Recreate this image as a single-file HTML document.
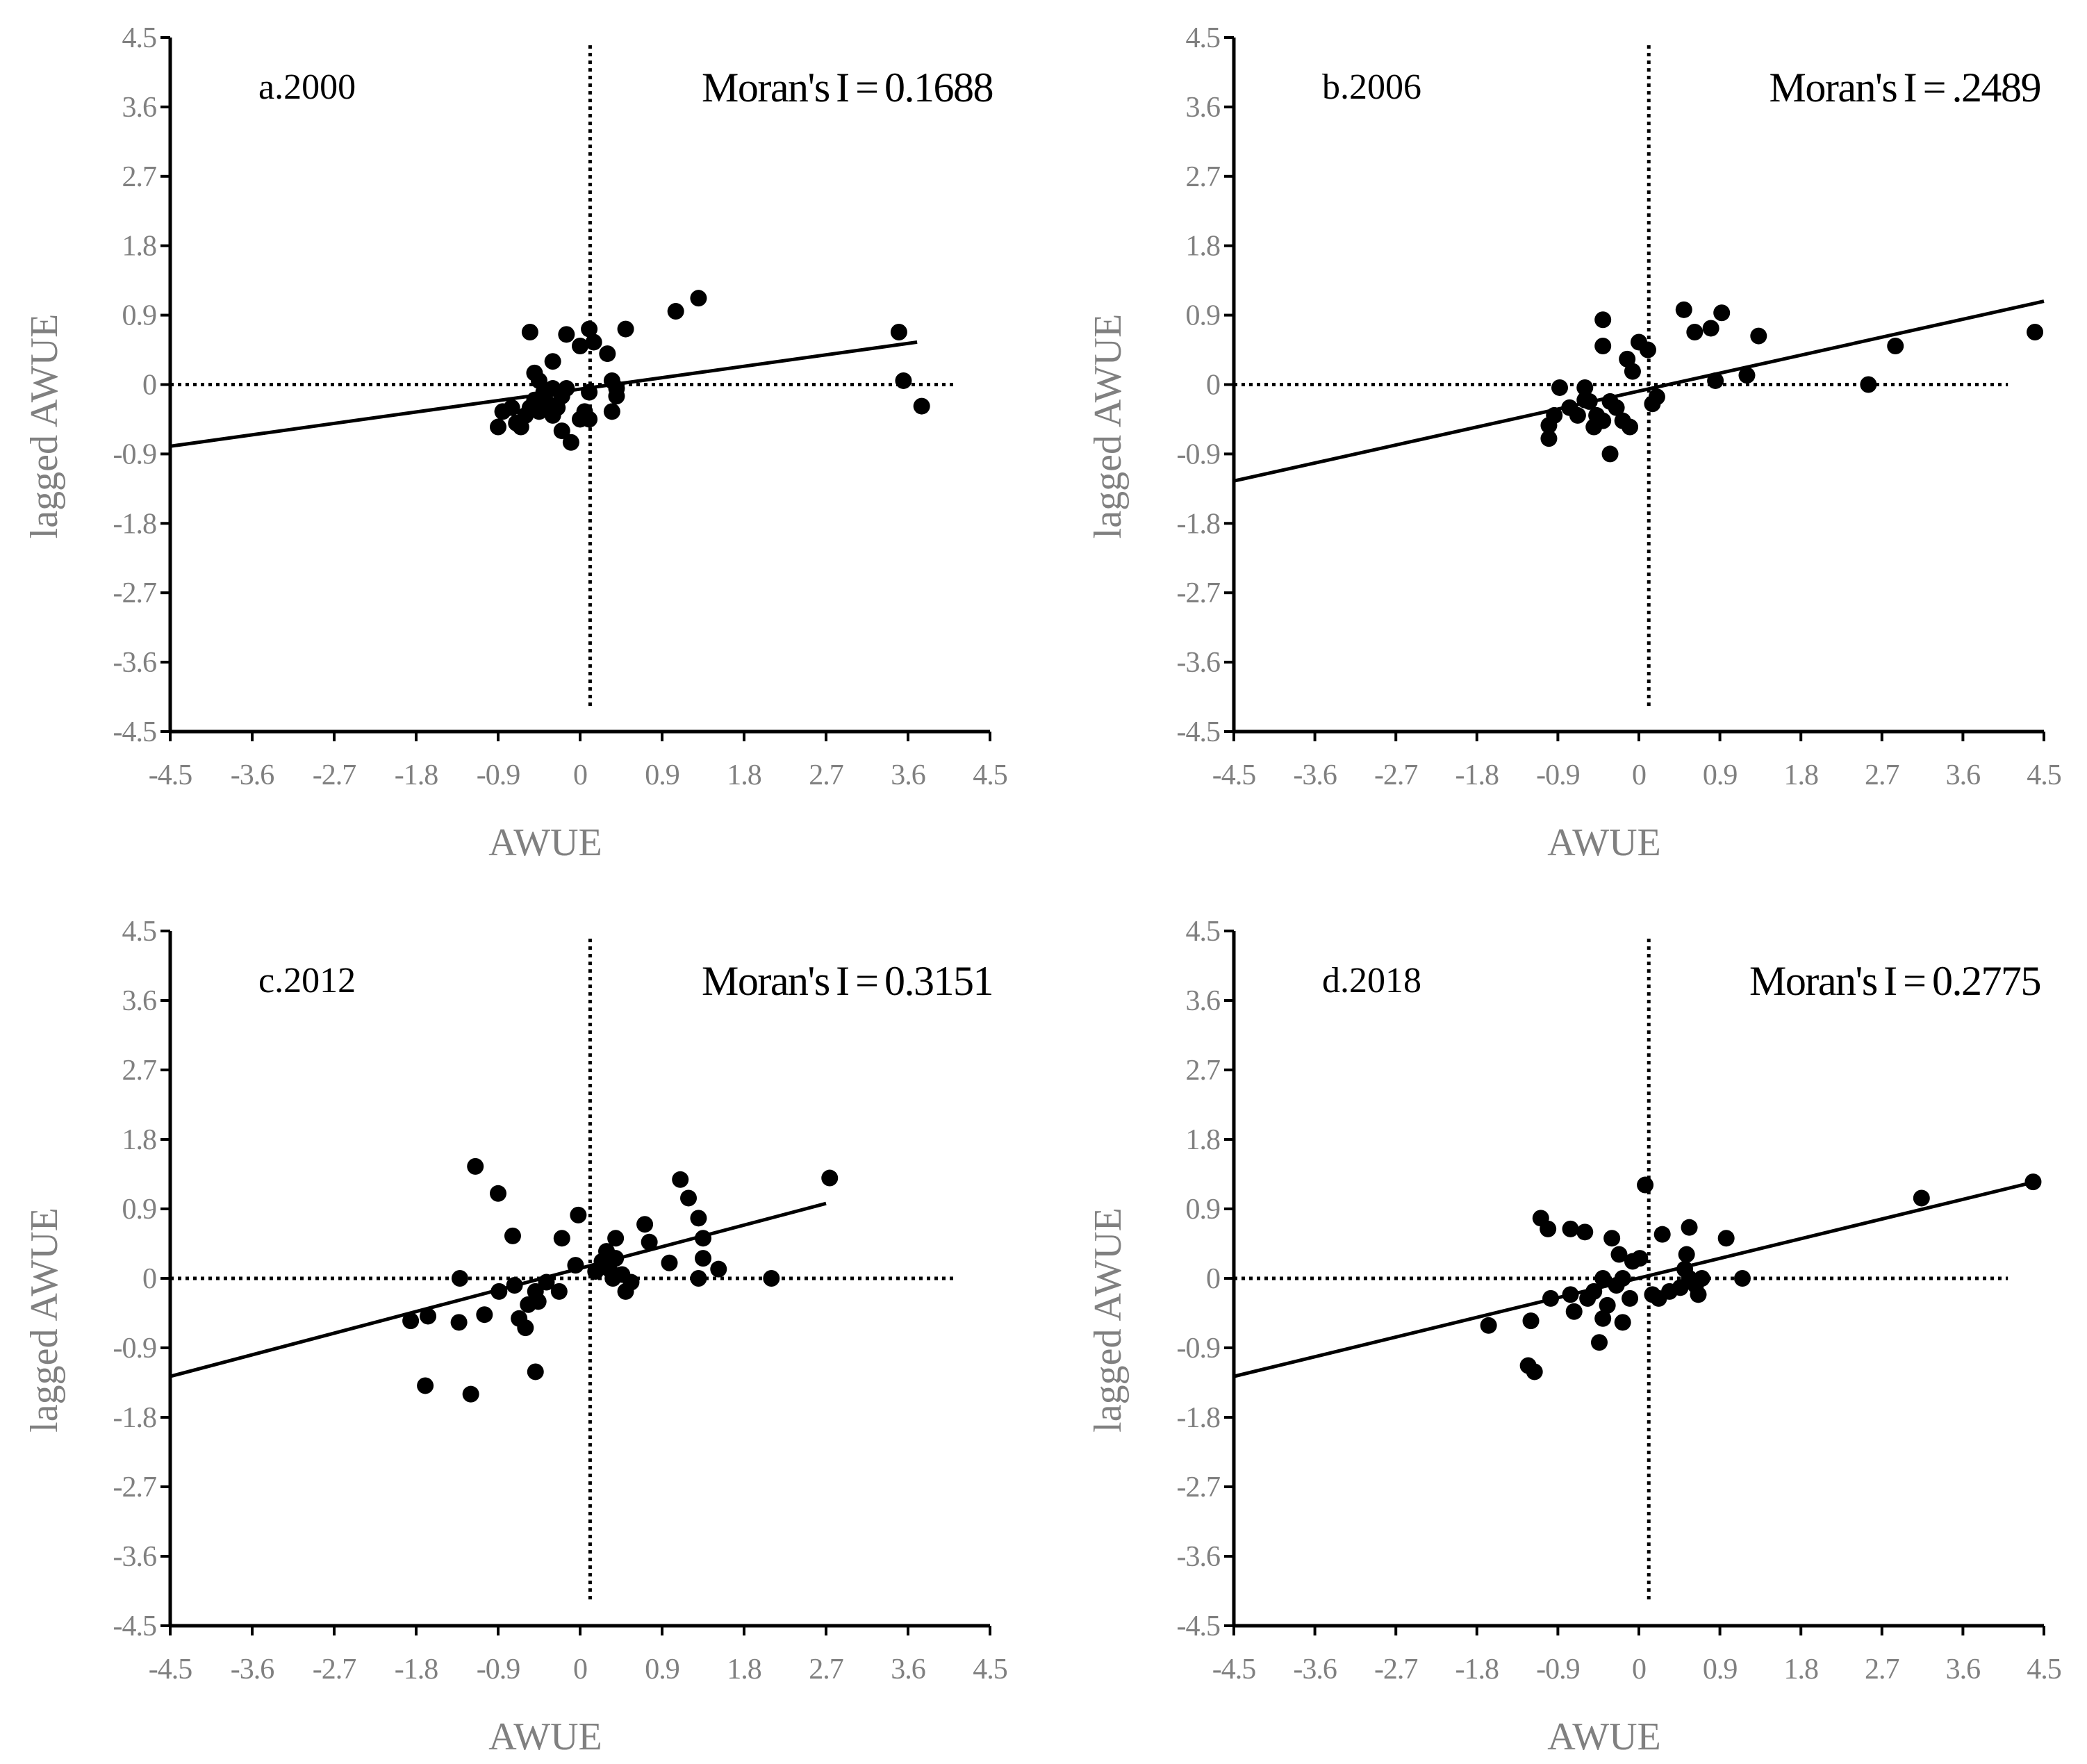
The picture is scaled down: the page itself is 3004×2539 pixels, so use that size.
<!DOCTYPE html>
<html><head><meta charset="utf-8"><style>
html,body{margin:0;padding:0;background:#fff;}
svg{display:block;}
text{font-family:"Liberation Serif",serif;}
</style></head><body>
<svg id="chart" width="3004" height="2539" viewBox="0 0 3004 2539" xmlns="http://www.w3.org/2000/svg"></svg>
<script>
const ticks = [-4.5,-3.6,-2.7,-1.8,-0.9,0,0.9,1.8,2.7,3.6,4.5];
const tickLabels = ["-4.5","-3.6","-2.7","-1.8","-0.9","0","0.9","1.8","2.7","3.6","4.5"];
const panelTitles = ["a.2000","b.2006","c.2012","d.2018"];
const moranLabels = ["Moran's I = 0.1688","Moran's I = .2489","Moran's I = 0.3151","Moran's I = 0.2775"];
const fitStart = [[-4.5,-0.8],[-4.5,-1.25],[-4.5,-1.27],[-4.5,-1.27]];
const fitEnd = [[3.7,0.55],[4.5,1.08],[2.7,0.97],[4.4,1.25]];
const ptsA = [[-0.55,0.68],[-0.15,0.65],[0.1,0.72],[0.5,0.72],[1.05,0.95],[1.3,1.12],[3.5,0.68],[3.55,0.05],[3.75,-0.28],[-0.3,0.3],[0.0,0.5],[0.15,0.55],[0.3,0.4],[-0.5,0.15],[-0.45,0.05],[0.35,0.05],[0.4,-0.05],[0.4,-0.15],[0.35,-0.35],[-0.85,-0.35],[-0.9,-0.55],[-0.75,-0.3],[-0.7,-0.5],[-0.65,-0.55],[-0.6,-0.4],[-0.55,-0.3],[-0.5,-0.2],[-0.45,-0.35],[-0.4,-0.1],[-0.35,-0.25],[-0.3,-0.4],[-0.25,-0.3],[-0.2,-0.15],[-0.2,-0.6],[-0.1,-0.75],[0.0,-0.45],[0.05,-0.35],[0.1,-0.45],[-0.15,-0.05],[-0.3,-0.05],[0.1,-0.1]];
const ptsB = [[-0.4,0.84],[0.5,0.97],[0.62,0.68],[0.8,0.73],[0.92,0.93],[1.33,0.63],[1.2,0.12],[0.85,0.05],[2.55,0],[2.85,0.5],[4.4,0.68],[-0.4,0.5],[-0.13,0.33],[0.0,0.55],[0.1,0.45],[-0.07,0.17],[0.2,-0.16],[0.15,-0.25],[-0.88,-0.04],[-1.0,-0.53],[-1.0,-0.7],[-0.94,-0.4],[-0.77,-0.3],[-0.6,-0.04],[-0.55,-0.22],[-0.47,-0.4],[-0.5,-0.55],[-0.4,-0.47],[-0.32,-0.9],[-0.25,-0.3],[-0.18,-0.47],[-0.1,-0.55],[-0.6,-0.2],[-0.68,-0.4],[-0.32,-0.22]];
const ptsC = [[-1.15,1.45],[-0.9,1.1],[-0.74,0.55],[-0.02,0.82],[-0.2,0.52],[-0.05,0.17],[1.1,1.28],[1.19,1.04],[1.3,0.78],[0.71,0.7],[0.76,0.47],[0.39,0.52],[1.35,0.52],[1.35,0.26],[1.52,0.12],[1.3,0],[2.1,0],[2.74,1.3],[0.98,0.2],[-1.86,-0.55],[-1.67,-0.49],[-1.32,0],[-1.33,-0.57],[-1.7,-1.39],[-1.2,-1.5],[-0.49,-1.21],[-1.05,-0.47],[-0.89,-0.17],[-0.72,-0.09],[-0.67,-0.52],[-0.6,-0.64],[-0.57,-0.34],[-0.49,-0.17],[-0.46,-0.3],[-0.37,-0.05],[-0.23,-0.17],[0.24,0.22],[0.32,0.12],[0.39,0.26],[0.46,0.05],[0.5,-0.17],[0.56,-0.05],[0.36,0.0],[0.17,0.09],[0.29,0.35]];
const ptsD = [[-1.09,0.78],[-1.01,0.64],[-0.76,0.64],[-0.6,0.6],[0.07,1.21],[0.26,0.57],[0.56,0.66],[0.97,0.52],[1.15,0],[0.53,0.31],[3.14,1.04],[4.38,1.25],[-0.3,0.52],[-0.22,0.31],[0.01,0.26],[-0.07,0.22],[-0.18,0],[-1.67,-0.61],[-1.2,-0.55],[-1.23,-1.13],[-1.16,-1.21],[-0.98,-0.26],[-0.76,-0.21],[-0.72,-0.43],[-0.57,-0.26],[-0.5,-0.17],[-0.44,-0.83],[-0.4,-0.52],[-0.35,-0.35],[-0.25,-0.09],[-0.18,-0.57],[-0.1,-0.26],[0.15,-0.21],[0.22,-0.26],[0.34,-0.17],[0.46,-0.12],[0.51,0.12],[0.63,-0.09],[0.66,-0.21],[0.7,0],[0.56,0.0],[-0.4,0.0]];
const allPts = [ptsA, ptsB, ptsC, ptsD];

const NS = "http://www.w3.org/2000/svg";
const svg = document.getElementById('chart');
const frames = [{x0:245,x1:1425,y0:54,y1:1053},{x0:1776,x1:2942,y0:54,y1:1053},{x0:245,x1:1425,y0:1340,y1:2340},{x0:1776,x1:2942,y0:1340,y1:2340}];
const partNames = ['a','b','c','d'];
function mk(tag, attrs, parent){const e=document.createElementNS(NS,tag);for(const k in attrs)e.setAttribute(k,attrs[k]);parent.appendChild(e);return e;}

frames.forEach((f,i)=>{
  const sx = v => f.x0 + (v+4.5)/9*(f.x1-f.x0);
  const sy = v => f.y1 - (v+4.5)/9*(f.y1-f.y0);
  const g = mk('g',{},svg);
  
  
  const ya = mk('line',{x1:f.x0,y1:f.y0,x2:f.x0,y2:f.y1,stroke:'#000','stroke-width':5},g);
  
  
  const xa = mk('line',{x1:f.x0-2,y1:f.y1,x2:f.x1,y2:f.y1,stroke:'#000','stroke-width':5},g);
  
  
  ticks.forEach((t,k)=>{
    mk('line',{x1:sx(t),y1:f.y1,x2:sx(t),y2:f.y1+14,stroke:'#000','stroke-width':4},g);
    mk('line',{x1:f.x0-14,y1:sy(t),x2:f.x0,y2:sy(t),stroke:'#000','stroke-width':4},g);
    const xl = mk('text',{x:sx(t),y:f.y1+76,'text-anchor':'middle','font-size':42,fill:'#808080','letter-spacing':-1},g);
    xl.textContent = tickLabels[k];
    
    
    const yl = mk('text',{x:f.x0-20,y:sy(t)+14,'text-anchor':'end','font-size':42,fill:'#808080','letter-spacing':-1},g);
    yl.textContent = tickLabels[k];
    
    
  });
  const hl = mk('line',{x1:f.x0,y1:sy(0),x2:sx(4.1),y2:sy(0),stroke:'#000','stroke-width':5,'stroke-dasharray':'5 6'},g);
  
  
  const vl = mk('line',{x1:sx(0.11),y1:sy(4.4),x2:sx(0.11),y2:sy(-4.2),stroke:'#000','stroke-width':5,'stroke-dasharray':'5 6'},g);
  
  
  allPts[i].forEach(p=>{
    const c = mk('circle',{cx:sx(p[0]),cy:sy(p[1]),r:12,fill:'#000'},g);
    
    
  });
  const fl = mk('line',{x1:sx(fitStart[i][0]),y1:sy(fitStart[i][1]),x2:sx(fitEnd[i][0]),y2:sy(fitEnd[i][1]),stroke:'#000','stroke-width':5},g);
  
  
  const pt = mk('text',{x:f.x0+127,y:f.y0+88,'font-size':52,fill:'#000'},g);
  pt.textContent = panelTitles[i];
  
  
  const mi = mk('text',{x:f.x1 + (i%2===0?4:-5),y:f.y0+92,'text-anchor':'end','font-size':60,fill:'#000','letter-spacing':-1.5,'word-spacing':-4},g);
  mi.textContent = moranLabels[i];
  
  
  const xt = mk('text',{x:(f.x0+f.x1)/2-50,y:f.y1+178,'text-anchor':'middle','font-size':56,fill:'#808080'},g);
  xt.textContent = 'AWUE';
  
  
  const cy = (f.y0+f.y1)/2 + 60;
  const yt = mk('text',{x:f.x0-163,y:cy,'text-anchor':'middle','font-size':56,fill:'#808080',transform:'rotate(-90 '+(f.x0-163)+' '+cy+')'},g);
  yt.textContent = 'lagged AWUE';
  
  
});
</script>
</body></html>
